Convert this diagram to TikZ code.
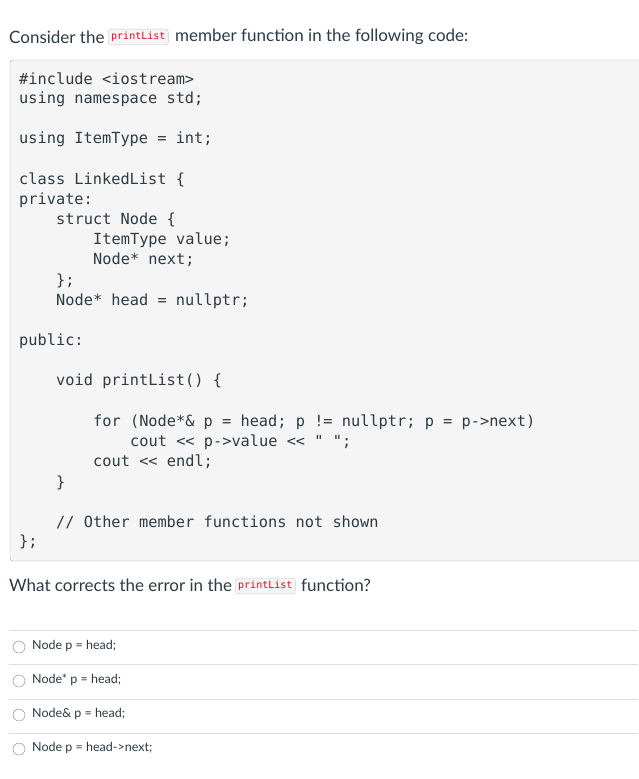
\documentclass[tikz,border=0pt]{standalone}
\usepackage{fontspec}
\setmainfont{Lato}
\newfontfamily\codefont{DejaVu Sans Mono}
\definecolor{txt}{HTML}{2D3B45}
\definecolor{codebg}{HTML}{F5F5F5}
\definecolor{codeline}{HTML}{C7CDD1}
\definecolor{sep}{HTML}{DDDDDD}
\definecolor{pillred}{HTML}{E0061F}
\begin{document}
\begin{tikzpicture}[x=1pt,y=-1pt,
  para/.style={anchor=west,inner sep=0pt,font=\fontsize{17}{20}\selectfont,text=txt},
  code/.style={anchor=west,inner sep=0pt,font=\codefont\fontsize{15.3}{18}\selectfont,text=txt},
  opt/.style={anchor=west,inner sep=0pt,font=\fontsize{12.5}{15}\selectfont,text=txt},
  pill/.style={draw=codeline,fill=codebg,rounded corners=3pt,inner xsep=3pt,inner ysep=3pt,font=\codefont\fontsize{10}{12}\selectfont,text=pillred},
  radio/.style={circle,draw=gray,minimum size=12pt,inner sep=0pt}]
\useasboundingbox (0,0) rectangle (638,779);
\fill[white] (0,0) rectangle (638,779);
\node[para] (t1) at (9,37) {Consider the};
\node[pill,anchor=west] (p1) at (108,37) {printList};
\node[para] (t2) at (175,37) {member function in the following code:};
\draw[gray!70,fill=codebg,rounded corners=3pt] (10,60) rectangle (645,561);
\node[code] (c1) at (19,79) {\#include <iostream>};
\node[code] (c2) at (19,99) {using namespace std;};
\node[code] (c3) at (19,139) {using ItemType = int;};
\node[code] (c4) at (19,180) {class LinkedList \{};
\node[code] (c5) at (19,200) {private:};
\node[code] (c6) at (56,220) {struct Node \{};
\node[code] (c7) at (93,240) {ItemType value;};
\node[code] (c8) at (93,260) {Node* next;};
\node[code] (c9) at (56,281) {\};};
\node[code] (c10) at (56,301) {Node* head = nullptr;};
\node[code] (c11) at (19,341) {public:};
\node[code] (c12) at (56,381) {void printList() \{};
\node[code] (c13) at (93,422) {for (Node*\& p = head; p != nullptr; p = p->next)};
\node[code] (c14) at (130,442) {cout << p->value << " ";};
\node[code] (c15) at (93,462) {cout << endl;};
\node[code] (c16) at (56,483) {\}};
\node[code] (c17) at (56,522) {// Other member functions not shown};
\node[code] (c18) at (19,542) {\};};
\node[para] (q1) at (9,585) {What corrects the error in the};
\node[pill,anchor=west] (p2) at (235,586) {printList};
\node[para] (q2) at (301,585) {function?};
\foreach \y in {630,664,699,733} \draw[sep] (9,\y) -- (638,\y);
\node[radio] (r1) at (19,647) {};
\node[opt] (o1) at (32,646) {Node p = head;};
\node[radio] (r2) at (19,681) {};
\node[opt] (o2) at (32,680) {Node* p = head;};
\node[radio] (r3) at (19,715) {};
\node[opt] (o3) at (32,714) {Node\& p = head;};
\node[radio] (r4) at (19,749) {};
\node[opt] (o4) at (32,748) {Node p = head->next;};
\end{tikzpicture}
\end{document}
